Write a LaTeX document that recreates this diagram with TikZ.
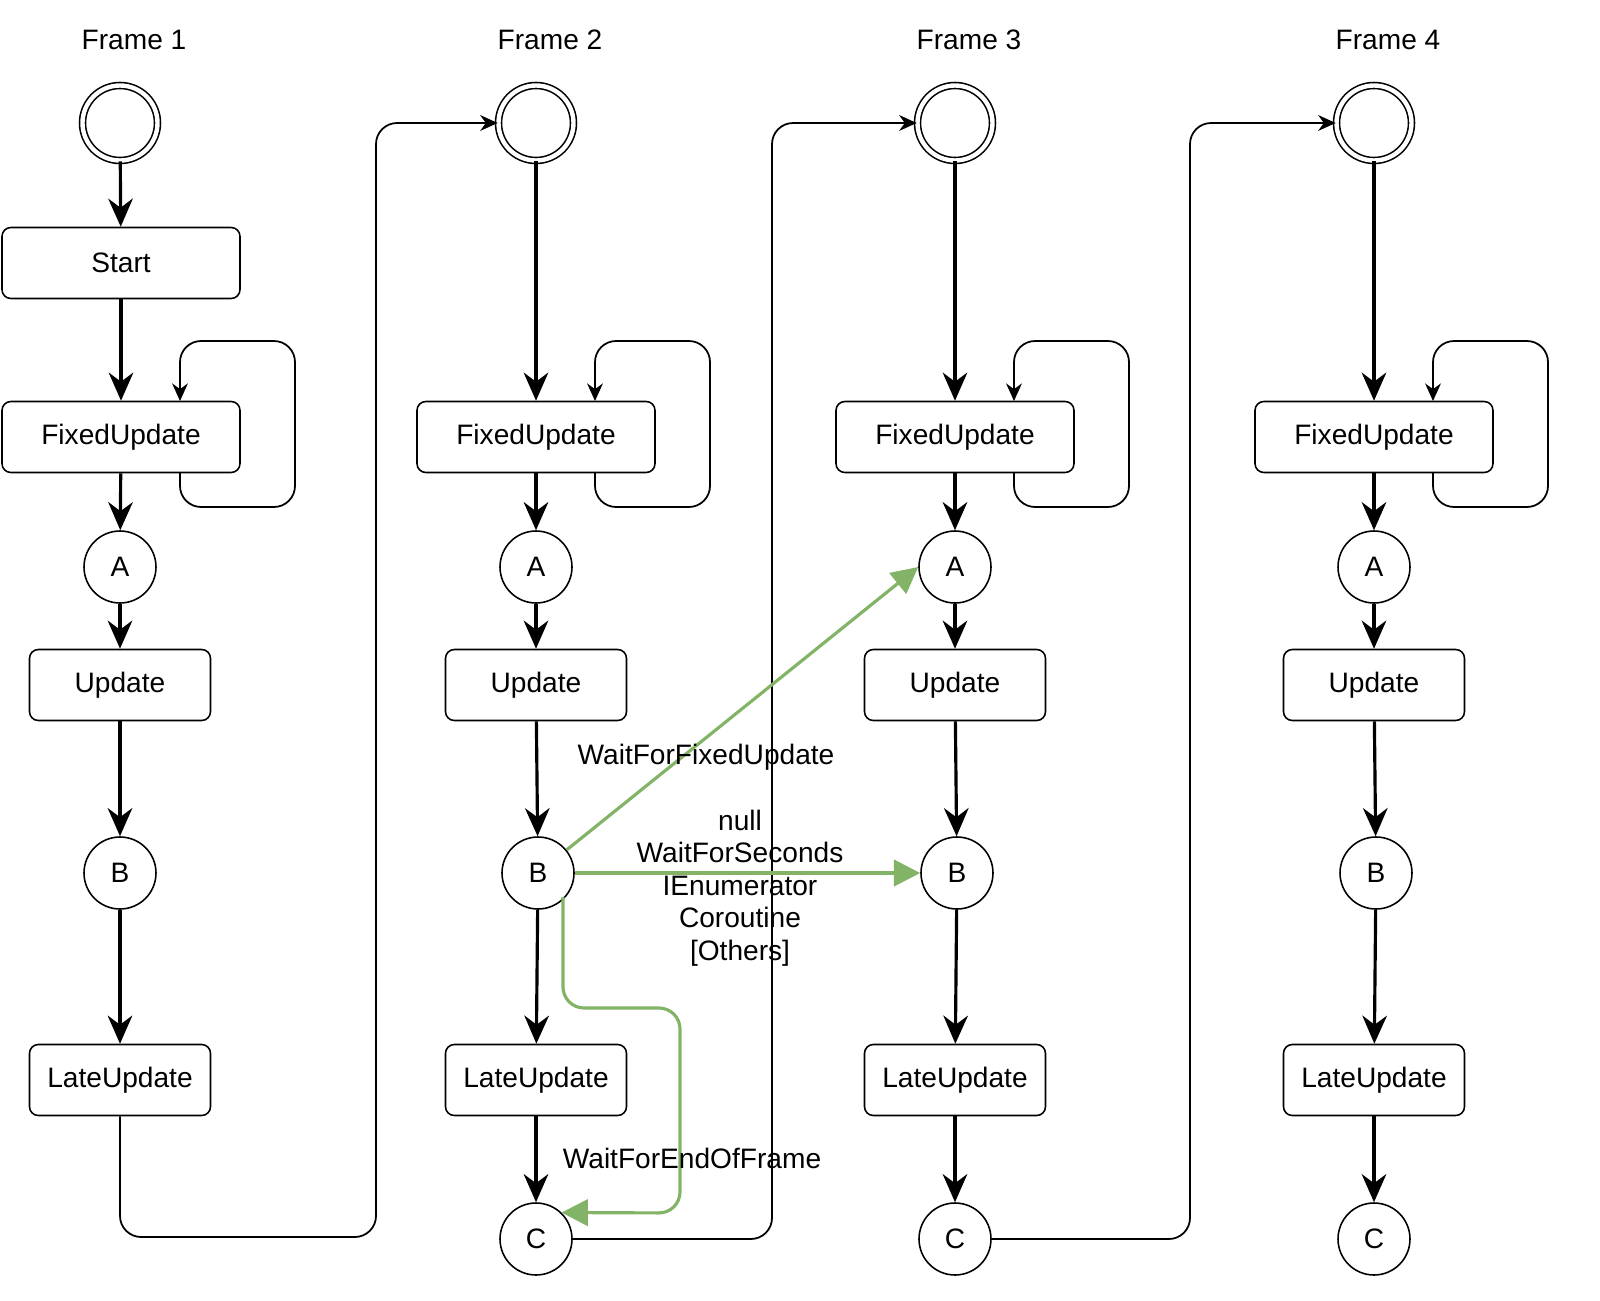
\documentclass[tikz,border=0pt]{standalone}
\usepackage{fontspec}
\setmainfont{Liberation Sans}
\usetikzlibrary{arrows.meta}
\tikzset{
  box/.style={draw,rounded corners=5pt,line width=0.9pt,minimum height=1.42cm,font=\fontsize{16}{19}\selectfont},
  wide/.style={box,minimum width=4.76cm},
  narrow/.style={box,minimum width=3.62cm},
  pt/.style={draw,circle,line width=0.9pt,minimum size=1.44cm,inner sep=0pt,font=\fontsize{16}{19}\selectfont},
  ini/.style={draw,circle,double,double distance=2.5pt,line width=0.9pt,minimum size=1.5cm,inner sep=0pt},
  flow/.style={-{Stealth[length=16pt,width=14pt]},line width=1.8pt},
  link/.style={-{Stealth[length=10pt,width=9pt]},line width=1pt,rounded corners=12pt},
  yield/.style={-{Triangle[length=15pt,width=15pt]},line width=1.8pt,draw={rgb,255:red,130;green,179;blue,102},rounded corners=12pt},
  lbl/.style={font=\fontsize{16}{18.5}\selectfont,align=center}
}
\begin{document}
\begin{tikzpicture}[x=0.02cm,y=-0.02cm]
\useasboundingbox (0,0) rectangle (1600,1301);
% frame 1
\node[lbl] (t1) at (134,40) {Frame 1};
\node[ini] (s1) at (120,123) {};
\node[wide] (st1) at (121,263) {Start};
\node[wide] (fu1) at (121,437) {FixedUpdate};
\node[pt] (a1) at (120,567) {A};
\node[narrow] (u1) at (120,685) {Update};
\node[pt] (b1) at (120,873) {B};
\node[narrow] (lu1) at (120,1080) {LateUpdate};
\draw[flow] (s1) -- (st1);
\draw[flow] (st1) -- (fu1);
\draw[flow] (fu1) -- (a1);
\draw[flow] (a1) -- (u1);
\draw[flow] (u1) -- (b1);
\draw[flow] (b1) -- (lu1);
\draw[link] (180,472) -- (180,507) -- (295,507) -- (295,341) -- (180,341) -- (180,401);
% frames 2-4
\foreach \i/\x in {2/536,3/955,4/1374}{
  \node[lbl] (t\i) at (\x+14,40) {Frame \i};
  \node[ini] (s\i) at (\x,123) {};
  \node[wide] (fu\i) at (\x,437) {FixedUpdate};
  \node[pt] (a\i) at (\x,567) {A};
  \node[narrow] (u\i) at (\x,685) {Update};
  \node[pt] (b\i) at (\x+2,873) {B};
  \node[narrow] (lu\i) at (\x,1080) {LateUpdate};
  \node[pt] (c\i) at (\x,1239) {C};
  \draw[flow] (s\i) -- (fu\i);
  \draw[flow] (fu\i) -- (a\i);
  \draw[flow] (a\i) -- (u\i);
  \draw[flow] (u\i) -- (b\i);
  \draw[flow] (b\i) -- (lu\i);
  \draw[flow] (lu\i) -- (c\i);
  \draw[link] (\x+59,472) -- (\x+59,507) -- (\x+174,507) -- (\x+174,341) -- (\x+59,341) -- (\x+59,401);
}
% frame links
\draw[link] (lu1) -- (120,1237) -- (376,1237) -- (376,123) -- (s2);
\draw[link] (c2) -- (772,1239) -- (772,123) -- (s3);
\draw[link] (c3) -- (1190,1239) -- (1190,123) -- (s4);
% yields
\draw[yield] (b2) -- (a3.west);
\draw[yield] (b2) -- (b3);
\draw[yield] (563,897) -- (563,1008) -- (680,1008) -- (680,1213) -- (c2.46);
\node[lbl] (l1) at (706,757) {WaitForFixedUpdate};
\node[lbl] (l2) at (740,888) {null\\WaitForSeconds\\IEnumerator\\Coroutine\\{[Others]}};
\node[lbl] (l3) at (692,1158) {WaitForEndOfFrame};
\end{tikzpicture}
\end{document}
